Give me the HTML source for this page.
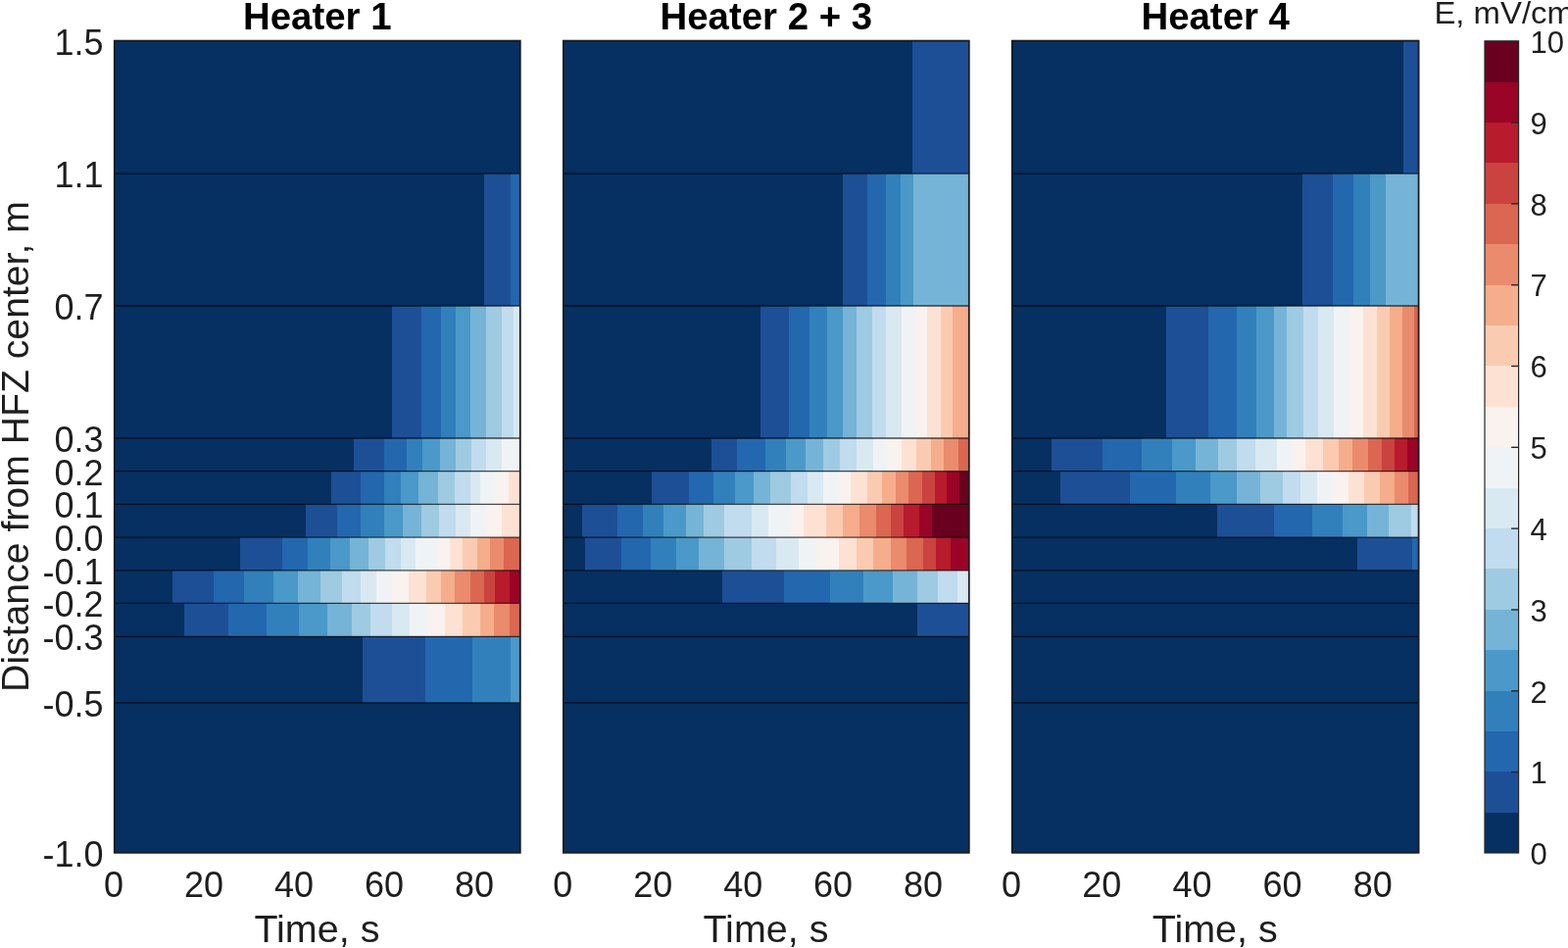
<!DOCTYPE html>
<html><head><meta charset="utf-8"><title>Heater E-field</title>
<style>html,body{margin:0;padding:0;background:#fff;}svg{display:block;filter:blur(0.5px);}</style></head><body>
<svg width="1600" height="967" viewBox="0 0 1600 967">
<rect x="0" y="0" width="1600" height="967" fill="#fff"/>
<g shape-rendering="crispEdges">
<rect x="116.8" y="41.6" width="414" height="828.2" fill="#053061"/>
<rect x="494.1" y="177.2" width="26.5" height="134.8" fill="#1d4f96"/>
<rect x="520.6" y="177.2" width="10.2" height="134.8" fill="#2367af"/>
<rect x="399.9" y="312" width="29.8" height="135" fill="#1d4f96"/>
<rect x="429.7" y="312" width="19.8" height="135" fill="#2367af"/>
<rect x="449.5" y="312" width="15.8" height="135" fill="#3180bc"/>
<rect x="465.3" y="312" width="14.9" height="135" fill="#4a99c8"/>
<rect x="480.2" y="312" width="15.7" height="135" fill="#75b4d6"/>
<rect x="495.9" y="312" width="15.7" height="135" fill="#9ecbe2"/>
<rect x="511.6" y="312" width="12.4" height="135" fill="#c0dcee"/>
<rect x="524" y="312" width="6.8" height="135" fill="#d9e9f2"/>
<rect x="361.2" y="447" width="30.6" height="33.7" fill="#1d4f96"/>
<rect x="391.8" y="447" width="22.7" height="33.7" fill="#2367af"/>
<rect x="414.5" y="447" width="16.1" height="33.7" fill="#3180bc"/>
<rect x="430.6" y="447" width="18.1" height="33.7" fill="#4a99c8"/>
<rect x="448.7" y="447" width="16.1" height="33.7" fill="#75b4d6"/>
<rect x="464.8" y="447" width="15.7" height="33.7" fill="#9ecbe2"/>
<rect x="480.5" y="447" width="15.7" height="33.7" fill="#c0dcee"/>
<rect x="496.2" y="447" width="15.8" height="33.7" fill="#d9e9f2"/>
<rect x="512" y="447" width="18.8" height="33.7" fill="#f0f3f6"/>
<rect x="337.9" y="480.7" width="29.9" height="33.6" fill="#1d4f96"/>
<rect x="367.8" y="480.7" width="24" height="33.6" fill="#2367af"/>
<rect x="391.8" y="480.7" width="17.3" height="33.6" fill="#3180bc"/>
<rect x="409.1" y="480.7" width="18.2" height="33.6" fill="#4a99c8"/>
<rect x="427.3" y="480.7" width="19.7" height="33.6" fill="#75b4d6"/>
<rect x="447" y="480.7" width="17" height="33.6" fill="#9ecbe2"/>
<rect x="464" y="480.7" width="15.7" height="33.6" fill="#c0dcee"/>
<rect x="479.7" y="480.7" width="9.9" height="33.6" fill="#d9e9f2"/>
<rect x="489.6" y="480.7" width="14.9" height="33.6" fill="#f0f3f6"/>
<rect x="504.5" y="480.7" width="14.5" height="33.6" fill="#f9f2ee"/>
<rect x="519" y="480.7" width="11.8" height="33.6" fill="#fde2d4"/>
<rect x="311.9" y="514.3" width="32.5" height="33.8" fill="#1d4f96"/>
<rect x="344.4" y="514.3" width="24" height="33.8" fill="#2367af"/>
<rect x="368.4" y="514.3" width="23.1" height="33.8" fill="#3180bc"/>
<rect x="391.5" y="514.3" width="19.7" height="33.8" fill="#4a99c8"/>
<rect x="411.2" y="514.3" width="18.7" height="33.8" fill="#75b4d6"/>
<rect x="429.9" y="514.3" width="18.1" height="33.8" fill="#9ecbe2"/>
<rect x="448" y="514.3" width="16.6" height="33.8" fill="#c0dcee"/>
<rect x="464.6" y="514.3" width="15.8" height="33.8" fill="#d9e9f2"/>
<rect x="480.4" y="514.3" width="15.3" height="33.8" fill="#f0f3f6"/>
<rect x="495.7" y="514.3" width="16.5" height="33.8" fill="#f9f2ee"/>
<rect x="512.2" y="514.3" width="18.6" height="33.8" fill="#fde2d4"/>
<rect x="244.9" y="548.1" width="43" height="33.8" fill="#1d4f96"/>
<rect x="287.9" y="548.1" width="25.6" height="33.8" fill="#2367af"/>
<rect x="313.5" y="548.1" width="23" height="33.8" fill="#3180bc"/>
<rect x="336.5" y="548.1" width="20.3" height="33.8" fill="#4a99c8"/>
<rect x="356.8" y="548.1" width="19" height="33.8" fill="#75b4d6"/>
<rect x="375.8" y="548.1" width="17" height="33.8" fill="#9ecbe2"/>
<rect x="392.8" y="548.1" width="15.7" height="33.8" fill="#c0dcee"/>
<rect x="408.5" y="548.1" width="15.6" height="33.8" fill="#d9e9f2"/>
<rect x="424.1" y="548.1" width="23.1" height="33.8" fill="#f0f3f6"/>
<rect x="447.2" y="548.1" width="11.6" height="33.8" fill="#f9f2ee"/>
<rect x="458.8" y="548.1" width="13.2" height="33.8" fill="#fde2d4"/>
<rect x="472" y="548.1" width="14.8" height="33.8" fill="#fbcbb1"/>
<rect x="486.8" y="548.1" width="13.2" height="33.8" fill="#f6ad8b"/>
<rect x="500" y="548.1" width="13.9" height="33.8" fill="#ea8b6d"/>
<rect x="513.9" y="548.1" width="16.9" height="33.8" fill="#db6651"/>
<rect x="175.8" y="581.9" width="41.7" height="33.4" fill="#1d4f96"/>
<rect x="217.5" y="581.9" width="31.9" height="33.4" fill="#2367af"/>
<rect x="249.4" y="581.9" width="30" height="33.4" fill="#3180bc"/>
<rect x="279.4" y="581.9" width="24.8" height="33.4" fill="#4a99c8"/>
<rect x="304.2" y="581.9" width="22.8" height="33.4" fill="#75b4d6"/>
<rect x="327" y="581.9" width="21.5" height="33.4" fill="#9ecbe2"/>
<rect x="348.5" y="581.9" width="19.2" height="33.4" fill="#c0dcee"/>
<rect x="367.7" y="581.9" width="16.2" height="33.4" fill="#d9e9f2"/>
<rect x="383.9" y="581.9" width="15.7" height="33.4" fill="#f0f3f6"/>
<rect x="399.6" y="581.9" width="17.4" height="33.4" fill="#f9f2ee"/>
<rect x="417" y="581.9" width="18.2" height="33.4" fill="#fde2d4"/>
<rect x="435.2" y="581.9" width="14.7" height="33.4" fill="#fbcbb1"/>
<rect x="449.9" y="581.9" width="14.1" height="33.4" fill="#f6ad8b"/>
<rect x="464" y="581.9" width="15.7" height="33.4" fill="#ea8b6d"/>
<rect x="479.7" y="581.9" width="14" height="33.4" fill="#db6651"/>
<rect x="493.7" y="581.9" width="11.6" height="33.4" fill="#cb433e"/>
<rect x="505.3" y="581.9" width="14.9" height="33.4" fill="#b71b2c"/>
<rect x="520.2" y="581.9" width="10.6" height="33.4" fill="#9a0426"/>
<rect x="187.7" y="615.3" width="45.1" height="34" fill="#1d4f96"/>
<rect x="232.8" y="615.3" width="39.2" height="34" fill="#2367af"/>
<rect x="272" y="615.3" width="32.6" height="34" fill="#3180bc"/>
<rect x="304.6" y="615.3" width="29" height="34" fill="#4a99c8"/>
<rect x="333.6" y="615.3" width="25.4" height="34" fill="#75b4d6"/>
<rect x="359" y="615.3" width="19.1" height="34" fill="#9ecbe2"/>
<rect x="378.1" y="615.3" width="21.5" height="34" fill="#c0dcee"/>
<rect x="399.6" y="615.3" width="18.2" height="34" fill="#d9e9f2"/>
<rect x="417.8" y="615.3" width="18.2" height="34" fill="#f0f3f6"/>
<rect x="436" y="615.3" width="18" height="34" fill="#f9f2ee"/>
<rect x="454" y="615.3" width="18.2" height="34" fill="#fde2d4"/>
<rect x="472.2" y="615.3" width="18.2" height="34" fill="#fbcbb1"/>
<rect x="490.4" y="615.3" width="13.7" height="34" fill="#f6ad8b"/>
<rect x="504.1" y="615.3" width="16.1" height="34" fill="#ea8b6d"/>
<rect x="520.2" y="615.3" width="10.6" height="34" fill="#db6651"/>
<rect x="369.6" y="649.3" width="64.6" height="67.6" fill="#1d4f96"/>
<rect x="434.2" y="649.3" width="47.3" height="67.6" fill="#2367af"/>
<rect x="481.5" y="649.3" width="39.4" height="67.6" fill="#3180bc"/>
<rect x="520.9" y="649.3" width="9.9" height="67.6" fill="#4a99c8"/>
</g>
<line x1="116.8" y1="177.2" x2="530.8" y2="177.2" stroke="#000" stroke-width="1.3" stroke-opacity="0.7"/>
<line x1="116.8" y1="312" x2="530.8" y2="312" stroke="#000" stroke-width="1.3" stroke-opacity="0.7"/>
<line x1="116.8" y1="447" x2="530.8" y2="447" stroke="#000" stroke-width="1.3" stroke-opacity="0.7"/>
<line x1="116.8" y1="480.7" x2="530.8" y2="480.7" stroke="#000" stroke-width="1.3" stroke-opacity="0.7"/>
<line x1="116.8" y1="514.3" x2="530.8" y2="514.3" stroke="#000" stroke-width="1.3" stroke-opacity="0.7"/>
<line x1="116.8" y1="548.1" x2="530.8" y2="548.1" stroke="#000" stroke-width="1.3" stroke-opacity="0.7"/>
<line x1="116.8" y1="581.9" x2="530.8" y2="581.9" stroke="#000" stroke-width="1.3" stroke-opacity="0.7"/>
<line x1="116.8" y1="615.3" x2="530.8" y2="615.3" stroke="#000" stroke-width="1.3" stroke-opacity="0.7"/>
<line x1="116.8" y1="649.3" x2="530.8" y2="649.3" stroke="#000" stroke-width="1.3" stroke-opacity="0.7"/>
<line x1="116.8" y1="716.9" x2="530.8" y2="716.9" stroke="#000" stroke-width="1.3" stroke-opacity="0.7"/>
<rect x="116.8" y="41.6" width="414" height="828.2" fill="none" stroke="#1a1a1f" stroke-width="1.8"/>
<text x="323.8" y="30" font-family="Liberation Sans, Arial, Helvetica, sans-serif" font-weight="bold" font-size="38.4" text-anchor="middle" fill="#000">Heater 1</text>
<text x="116.1" y="914.5" font-family="Liberation Sans, Arial, Helvetica, sans-serif" font-size="36" text-anchor="middle" fill="#1e1e1e">0</text>
<text x="208.1" y="914.5" font-family="Liberation Sans, Arial, Helvetica, sans-serif" font-size="36" text-anchor="middle" fill="#1e1e1e">20</text>
<text x="300.1" y="914.5" font-family="Liberation Sans, Arial, Helvetica, sans-serif" font-size="36" text-anchor="middle" fill="#1e1e1e">40</text>
<text x="392.1" y="914.5" font-family="Liberation Sans, Arial, Helvetica, sans-serif" font-size="36" text-anchor="middle" fill="#1e1e1e">60</text>
<text x="484.1" y="914.5" font-family="Liberation Sans, Arial, Helvetica, sans-serif" font-size="36" text-anchor="middle" fill="#1e1e1e">80</text>
<text x="323.4" y="961" font-family="Liberation Sans, Arial, Helvetica, sans-serif" font-size="39.5" text-anchor="middle" fill="#1e1e1e">Time, s</text>
<g shape-rendering="crispEdges">
<rect x="574.9" y="41.6" width="413.9" height="828.2" fill="#053061"/>
<rect x="931" y="41.7" width="57.8" height="135.5" fill="#1d4f96"/>
<rect x="859.7" y="177.2" width="25.6" height="134.8" fill="#1d4f96"/>
<rect x="885.3" y="177.2" width="18.6" height="134.8" fill="#2367af"/>
<rect x="903.9" y="177.2" width="15.5" height="134.8" fill="#3180bc"/>
<rect x="919.4" y="177.2" width="12.4" height="134.8" fill="#4a99c8"/>
<rect x="931.8" y="177.2" width="57" height="134.8" fill="#75b4d6"/>
<rect x="775.9" y="312" width="28.6" height="135" fill="#1d4f96"/>
<rect x="804.5" y="312" width="21" height="135" fill="#2367af"/>
<rect x="825.5" y="312" width="18.6" height="135" fill="#3180bc"/>
<rect x="844.1" y="312" width="15.5" height="135" fill="#4a99c8"/>
<rect x="859.6" y="312" width="14.4" height="135" fill="#75b4d6"/>
<rect x="874" y="312" width="16.2" height="135" fill="#9ecbe2"/>
<rect x="890.2" y="312" width="13.9" height="135" fill="#c0dcee"/>
<rect x="904.1" y="312" width="15.5" height="135" fill="#d9e9f2"/>
<rect x="919.6" y="312" width="15.5" height="135" fill="#f0f3f6"/>
<rect x="935.1" y="312" width="10.9" height="135" fill="#f9f2ee"/>
<rect x="946" y="312" width="13.9" height="135" fill="#fde2d4"/>
<rect x="959.9" y="312" width="12.4" height="135" fill="#fbcbb1"/>
<rect x="972.3" y="312" width="16.5" height="135" fill="#f6ad8b"/>
<rect x="726.1" y="447" width="26.2" height="33.7" fill="#1d4f96"/>
<rect x="752.3" y="447" width="29.1" height="33.7" fill="#2367af"/>
<rect x="781.4" y="447" width="20.7" height="33.7" fill="#3180bc"/>
<rect x="802.1" y="447" width="19.4" height="33.7" fill="#4a99c8"/>
<rect x="821.5" y="447" width="18.5" height="33.7" fill="#75b4d6"/>
<rect x="840" y="447" width="16.9" height="33.7" fill="#9ecbe2"/>
<rect x="856.9" y="447" width="17" height="33.7" fill="#c0dcee"/>
<rect x="873.9" y="447" width="17.3" height="33.7" fill="#d9e9f2"/>
<rect x="891.2" y="447" width="14.9" height="33.7" fill="#f0f3f6"/>
<rect x="906.1" y="447" width="14" height="33.7" fill="#f9f2ee"/>
<rect x="920.1" y="447" width="14.8" height="33.7" fill="#fde2d4"/>
<rect x="934.9" y="447" width="14.8" height="33.7" fill="#fbcbb1"/>
<rect x="949.7" y="447" width="12.9" height="33.7" fill="#f6ad8b"/>
<rect x="962.6" y="447" width="15.3" height="33.7" fill="#ea8b6d"/>
<rect x="977.9" y="447" width="10.9" height="33.7" fill="#db6651"/>
<rect x="664.9" y="480.7" width="37.7" height="33.6" fill="#1d4f96"/>
<rect x="702.6" y="480.7" width="25.6" height="33.6" fill="#2367af"/>
<rect x="728.2" y="480.7" width="22.1" height="33.6" fill="#3180bc"/>
<rect x="750.3" y="480.7" width="18.3" height="33.6" fill="#4a99c8"/>
<rect x="768.6" y="480.7" width="17.8" height="33.6" fill="#75b4d6"/>
<rect x="786.4" y="480.7" width="20.2" height="33.6" fill="#9ecbe2"/>
<rect x="806.6" y="480.7" width="17.4" height="33.6" fill="#c0dcee"/>
<rect x="824" y="480.7" width="16" height="33.6" fill="#d9e9f2"/>
<rect x="840" y="480.7" width="15.7" height="33.6" fill="#f0f3f6"/>
<rect x="855.7" y="480.7" width="12.4" height="33.6" fill="#f9f2ee"/>
<rect x="868.1" y="480.7" width="16.5" height="33.6" fill="#fde2d4"/>
<rect x="884.6" y="480.7" width="14.9" height="33.6" fill="#fbcbb1"/>
<rect x="899.5" y="480.7" width="14.1" height="33.6" fill="#f6ad8b"/>
<rect x="913.6" y="480.7" width="13.4" height="33.6" fill="#ea8b6d"/>
<rect x="927" y="480.7" width="13.6" height="33.6" fill="#db6651"/>
<rect x="940.6" y="480.7" width="13.3" height="33.6" fill="#cb433e"/>
<rect x="953.9" y="480.7" width="12" height="33.6" fill="#b71b2c"/>
<rect x="965.9" y="480.7" width="12.8" height="33.6" fill="#9a0426"/>
<rect x="978.7" y="480.7" width="10.1" height="33.6" fill="#69001f"/>
<rect x="594" y="514.3" width="35.6" height="33.8" fill="#1d4f96"/>
<rect x="629.6" y="514.3" width="26.4" height="33.8" fill="#2367af"/>
<rect x="656" y="514.3" width="20.5" height="33.8" fill="#3180bc"/>
<rect x="676.5" y="514.3" width="23.2" height="33.8" fill="#4a99c8"/>
<rect x="699.7" y="514.3" width="18.2" height="33.8" fill="#75b4d6"/>
<rect x="717.9" y="514.3" width="20.7" height="33.8" fill="#9ecbe2"/>
<rect x="738.6" y="514.3" width="27.9" height="33.8" fill="#c0dcee"/>
<rect x="766.5" y="514.3" width="17.4" height="33.8" fill="#d9e9f2"/>
<rect x="783.9" y="514.3" width="23.1" height="33.8" fill="#f0f3f6"/>
<rect x="807" y="514.3" width="13.3" height="33.8" fill="#f9f2ee"/>
<rect x="820.3" y="514.3" width="22.3" height="33.8" fill="#fde2d4"/>
<rect x="842.6" y="514.3" width="17.3" height="33.8" fill="#fbcbb1"/>
<rect x="859.9" y="514.3" width="16.9" height="33.8" fill="#f6ad8b"/>
<rect x="876.8" y="514.3" width="17" height="33.8" fill="#ea8b6d"/>
<rect x="893.8" y="514.3" width="14.9" height="33.8" fill="#db6651"/>
<rect x="908.7" y="514.3" width="13.1" height="33.8" fill="#cb433e"/>
<rect x="921.8" y="514.3" width="15.7" height="33.8" fill="#b71b2c"/>
<rect x="937.5" y="514.3" width="13.1" height="33.8" fill="#9a0426"/>
<rect x="950.6" y="514.3" width="38.2" height="33.8" fill="#69001f"/>
<rect x="596.5" y="548.1" width="37.2" height="33.8" fill="#1d4f96"/>
<rect x="633.7" y="548.1" width="30.1" height="33.8" fill="#2367af"/>
<rect x="663.8" y="548.1" width="26" height="33.8" fill="#3180bc"/>
<rect x="689.8" y="548.1" width="23.1" height="33.8" fill="#4a99c8"/>
<rect x="712.9" y="548.1" width="26.5" height="33.8" fill="#75b4d6"/>
<rect x="739.4" y="548.1" width="28" height="33.8" fill="#9ecbe2"/>
<rect x="767.4" y="548.1" width="24.4" height="33.8" fill="#c0dcee"/>
<rect x="791.8" y="548.1" width="23.5" height="33.8" fill="#d9e9f2"/>
<rect x="815.3" y="548.1" width="17.4" height="33.8" fill="#f0f3f6"/>
<rect x="832.7" y="548.1" width="23" height="33.8" fill="#f9f2ee"/>
<rect x="855.7" y="548.1" width="18.2" height="33.8" fill="#fde2d4"/>
<rect x="873.9" y="548.1" width="17.4" height="33.8" fill="#fbcbb1"/>
<rect x="891.3" y="548.1" width="17.4" height="33.8" fill="#f6ad8b"/>
<rect x="908.7" y="548.1" width="16.3" height="33.8" fill="#ea8b6d"/>
<rect x="925" y="548.1" width="16.5" height="33.8" fill="#db6651"/>
<rect x="941.5" y="548.1" width="13.2" height="33.8" fill="#cb433e"/>
<rect x="954.7" y="548.1" width="14.9" height="33.8" fill="#b71b2c"/>
<rect x="969.6" y="548.1" width="19.2" height="33.8" fill="#9a0426"/>
<rect x="737.4" y="581.9" width="62.9" height="33.4" fill="#1d4f96"/>
<rect x="800.3" y="581.9" width="47" height="33.4" fill="#2367af"/>
<rect x="847.3" y="581.9" width="33.9" height="33.4" fill="#3180bc"/>
<rect x="881.2" y="581.9" width="29.9" height="33.4" fill="#4a99c8"/>
<rect x="911.1" y="581.9" width="24.5" height="33.4" fill="#75b4d6"/>
<rect x="935.6" y="581.9" width="21.5" height="33.4" fill="#9ecbe2"/>
<rect x="957.1" y="581.9" width="19.9" height="33.4" fill="#c0dcee"/>
<rect x="977" y="581.9" width="11.8" height="33.4" fill="#d9e9f2"/>
<rect x="935.6" y="615.3" width="53.2" height="34" fill="#1d4f96"/>
</g>
<line x1="574.9" y1="177.2" x2="988.8" y2="177.2" stroke="#000" stroke-width="1.3" stroke-opacity="0.7"/>
<line x1="574.9" y1="312" x2="988.8" y2="312" stroke="#000" stroke-width="1.3" stroke-opacity="0.7"/>
<line x1="574.9" y1="447" x2="988.8" y2="447" stroke="#000" stroke-width="1.3" stroke-opacity="0.7"/>
<line x1="574.9" y1="480.7" x2="988.8" y2="480.7" stroke="#000" stroke-width="1.3" stroke-opacity="0.7"/>
<line x1="574.9" y1="514.3" x2="988.8" y2="514.3" stroke="#000" stroke-width="1.3" stroke-opacity="0.7"/>
<line x1="574.9" y1="548.1" x2="988.8" y2="548.1" stroke="#000" stroke-width="1.3" stroke-opacity="0.7"/>
<line x1="574.9" y1="581.9" x2="988.8" y2="581.9" stroke="#000" stroke-width="1.3" stroke-opacity="0.7"/>
<line x1="574.9" y1="615.3" x2="988.8" y2="615.3" stroke="#000" stroke-width="1.3" stroke-opacity="0.7"/>
<line x1="574.9" y1="649.3" x2="988.8" y2="649.3" stroke="#000" stroke-width="1.3" stroke-opacity="0.7"/>
<line x1="574.9" y1="716.9" x2="988.8" y2="716.9" stroke="#000" stroke-width="1.3" stroke-opacity="0.7"/>
<rect x="574.9" y="41.6" width="413.9" height="828.2" fill="none" stroke="#1a1a1f" stroke-width="1.8"/>
<text x="781.85" y="30" font-family="Liberation Sans, Arial, Helvetica, sans-serif" font-weight="bold" font-size="38.4" text-anchor="middle" fill="#000">Heater 2 + 3</text>
<text x="574.2" y="914.5" font-family="Liberation Sans, Arial, Helvetica, sans-serif" font-size="36" text-anchor="middle" fill="#1e1e1e">0</text>
<text x="666.18" y="914.5" font-family="Liberation Sans, Arial, Helvetica, sans-serif" font-size="36" text-anchor="middle" fill="#1e1e1e">20</text>
<text x="758.16" y="914.5" font-family="Liberation Sans, Arial, Helvetica, sans-serif" font-size="36" text-anchor="middle" fill="#1e1e1e">40</text>
<text x="850.13" y="914.5" font-family="Liberation Sans, Arial, Helvetica, sans-serif" font-size="36" text-anchor="middle" fill="#1e1e1e">60</text>
<text x="942.11" y="914.5" font-family="Liberation Sans, Arial, Helvetica, sans-serif" font-size="36" text-anchor="middle" fill="#1e1e1e">80</text>
<text x="781.45" y="961" font-family="Liberation Sans, Arial, Helvetica, sans-serif" font-size="39.5" text-anchor="middle" fill="#1e1e1e">Time, s</text>
<g shape-rendering="crispEdges">
<rect x="1032.8" y="41.6" width="414.8" height="828.2" fill="#053061"/>
<rect x="1431.6" y="41.7" width="16" height="135.5" fill="#1d4f96"/>
<rect x="1329.3" y="177.2" width="30.2" height="134.8" fill="#1d4f96"/>
<rect x="1359.5" y="177.2" width="21.7" height="134.8" fill="#2367af"/>
<rect x="1381.2" y="177.2" width="17.1" height="134.8" fill="#3180bc"/>
<rect x="1398.3" y="177.2" width="15.5" height="134.8" fill="#4a99c8"/>
<rect x="1413.8" y="177.2" width="33.8" height="134.8" fill="#75b4d6"/>
<rect x="1190.1" y="312" width="42.6" height="135" fill="#1d4f96"/>
<rect x="1232.7" y="312" width="29.5" height="135" fill="#2367af"/>
<rect x="1262.2" y="312" width="19.4" height="135" fill="#3180bc"/>
<rect x="1281.6" y="312" width="18.6" height="135" fill="#4a99c8"/>
<rect x="1300.2" y="312" width="13" height="135" fill="#75b4d6"/>
<rect x="1313.2" y="312" width="17" height="135" fill="#9ecbe2"/>
<rect x="1330.2" y="312" width="14.7" height="135" fill="#c0dcee"/>
<rect x="1344.9" y="312" width="16.3" height="135" fill="#d9e9f2"/>
<rect x="1361.2" y="312" width="15.5" height="135" fill="#f0f3f6"/>
<rect x="1376.7" y="312" width="14.7" height="135" fill="#f9f2ee"/>
<rect x="1391.4" y="312" width="13.2" height="135" fill="#fde2d4"/>
<rect x="1404.6" y="312" width="13.2" height="135" fill="#fbcbb1"/>
<rect x="1417.8" y="312" width="13.1" height="135" fill="#f6ad8b"/>
<rect x="1430.9" y="312" width="11.7" height="135" fill="#ea8b6d"/>
<rect x="1442.6" y="312" width="5" height="135" fill="#db6651"/>
<rect x="1073.3" y="447" width="52.1" height="33.7" fill="#1d4f96"/>
<rect x="1125.4" y="447" width="39.5" height="33.7" fill="#2367af"/>
<rect x="1164.9" y="447" width="30.6" height="33.7" fill="#3180bc"/>
<rect x="1195.5" y="447" width="24.8" height="33.7" fill="#4a99c8"/>
<rect x="1220.3" y="447" width="22.8" height="33.7" fill="#75b4d6"/>
<rect x="1243.1" y="447" width="19.3" height="33.7" fill="#9ecbe2"/>
<rect x="1262.4" y="447" width="18.2" height="33.7" fill="#c0dcee"/>
<rect x="1280.6" y="447" width="22.3" height="33.7" fill="#d9e9f2"/>
<rect x="1302.9" y="447" width="16.5" height="33.7" fill="#f0f3f6"/>
<rect x="1319.4" y="447" width="12.4" height="33.7" fill="#f9f2ee"/>
<rect x="1331.8" y="447" width="18.5" height="33.7" fill="#fde2d4"/>
<rect x="1350.3" y="447" width="16.1" height="33.7" fill="#fbcbb1"/>
<rect x="1366.4" y="447" width="13.7" height="33.7" fill="#f6ad8b"/>
<rect x="1380.1" y="447" width="15.7" height="33.7" fill="#ea8b6d"/>
<rect x="1395.8" y="447" width="14.1" height="33.7" fill="#db6651"/>
<rect x="1409.9" y="447" width="13.1" height="33.7" fill="#cb433e"/>
<rect x="1423" y="447" width="13.4" height="33.7" fill="#b71b2c"/>
<rect x="1436.4" y="447" width="11.2" height="33.7" fill="#9a0426"/>
<rect x="1081.5" y="480.7" width="71.2" height="33.6" fill="#1d4f96"/>
<rect x="1152.7" y="480.7" width="47.4" height="33.6" fill="#2367af"/>
<rect x="1200.1" y="480.7" width="35.1" height="33.6" fill="#3180bc"/>
<rect x="1235.2" y="480.7" width="26.3" height="33.6" fill="#4a99c8"/>
<rect x="1261.5" y="480.7" width="24" height="33.6" fill="#75b4d6"/>
<rect x="1285.5" y="480.7" width="23.2" height="33.6" fill="#9ecbe2"/>
<rect x="1308.7" y="480.7" width="18.2" height="33.6" fill="#c0dcee"/>
<rect x="1326.9" y="480.7" width="16.8" height="33.6" fill="#d9e9f2"/>
<rect x="1343.7" y="480.7" width="16.1" height="33.6" fill="#f0f3f6"/>
<rect x="1359.8" y="480.7" width="16.1" height="33.6" fill="#f9f2ee"/>
<rect x="1375.9" y="480.7" width="16.2" height="33.6" fill="#fde2d4"/>
<rect x="1392.1" y="480.7" width="15.7" height="33.6" fill="#fbcbb1"/>
<rect x="1407.8" y="480.7" width="15.3" height="33.6" fill="#f6ad8b"/>
<rect x="1423.1" y="480.7" width="14.1" height="33.6" fill="#ea8b6d"/>
<rect x="1437.2" y="480.7" width="10.4" height="33.6" fill="#db6651"/>
<rect x="1242" y="514.3" width="58.3" height="33.8" fill="#1d4f96"/>
<rect x="1300.3" y="514.3" width="38.8" height="33.8" fill="#2367af"/>
<rect x="1339.1" y="514.3" width="30.6" height="33.8" fill="#3180bc"/>
<rect x="1369.7" y="514.3" width="24.8" height="33.8" fill="#4a99c8"/>
<rect x="1394.5" y="514.3" width="22" height="33.8" fill="#75b4d6"/>
<rect x="1416.5" y="514.3" width="23.2" height="33.8" fill="#9ecbe2"/>
<rect x="1439.7" y="514.3" width="7.9" height="33.8" fill="#c0dcee"/>
<rect x="1385.4" y="548.1" width="55.1" height="33.8" fill="#1d4f96"/>
<rect x="1440.5" y="548.1" width="7.1" height="33.8" fill="#2367af"/>
</g>
<line x1="1032.8" y1="177.2" x2="1447.6" y2="177.2" stroke="#000" stroke-width="1.3" stroke-opacity="0.7"/>
<line x1="1032.8" y1="312" x2="1447.6" y2="312" stroke="#000" stroke-width="1.3" stroke-opacity="0.7"/>
<line x1="1032.8" y1="447" x2="1447.6" y2="447" stroke="#000" stroke-width="1.3" stroke-opacity="0.7"/>
<line x1="1032.8" y1="480.7" x2="1447.6" y2="480.7" stroke="#000" stroke-width="1.3" stroke-opacity="0.7"/>
<line x1="1032.8" y1="514.3" x2="1447.6" y2="514.3" stroke="#000" stroke-width="1.3" stroke-opacity="0.7"/>
<line x1="1032.8" y1="548.1" x2="1447.6" y2="548.1" stroke="#000" stroke-width="1.3" stroke-opacity="0.7"/>
<line x1="1032.8" y1="581.9" x2="1447.6" y2="581.9" stroke="#000" stroke-width="1.3" stroke-opacity="0.7"/>
<line x1="1032.8" y1="615.3" x2="1447.6" y2="615.3" stroke="#000" stroke-width="1.3" stroke-opacity="0.7"/>
<line x1="1032.8" y1="649.3" x2="1447.6" y2="649.3" stroke="#000" stroke-width="1.3" stroke-opacity="0.7"/>
<line x1="1032.8" y1="716.9" x2="1447.6" y2="716.9" stroke="#000" stroke-width="1.3" stroke-opacity="0.7"/>
<rect x="1032.8" y="41.6" width="414.8" height="828.2" fill="none" stroke="#1a1a1f" stroke-width="1.8"/>
<text x="1240.2" y="30" font-family="Liberation Sans, Arial, Helvetica, sans-serif" font-weight="bold" font-size="38.4" text-anchor="middle" fill="#000">Heater 4</text>
<text x="1032.1" y="914.5" font-family="Liberation Sans, Arial, Helvetica, sans-serif" font-size="36" text-anchor="middle" fill="#1e1e1e">0</text>
<text x="1124.28" y="914.5" font-family="Liberation Sans, Arial, Helvetica, sans-serif" font-size="36" text-anchor="middle" fill="#1e1e1e">20</text>
<text x="1216.46" y="914.5" font-family="Liberation Sans, Arial, Helvetica, sans-serif" font-size="36" text-anchor="middle" fill="#1e1e1e">40</text>
<text x="1308.63" y="914.5" font-family="Liberation Sans, Arial, Helvetica, sans-serif" font-size="36" text-anchor="middle" fill="#1e1e1e">60</text>
<text x="1400.81" y="914.5" font-family="Liberation Sans, Arial, Helvetica, sans-serif" font-size="36" text-anchor="middle" fill="#1e1e1e">80</text>
<text x="1239.8" y="961" font-family="Liberation Sans, Arial, Helvetica, sans-serif" font-size="39.5" text-anchor="middle" fill="#1e1e1e">Time, s</text>
<text x="105.5" y="55.7" font-family="Liberation Sans, Arial, Helvetica, sans-serif" font-size="36" text-anchor="end" fill="#1e1e1e">1.5</text>
<text x="105.5" y="191.2" font-family="Liberation Sans, Arial, Helvetica, sans-serif" font-size="36" text-anchor="end" fill="#1e1e1e">1.1</text>
<text x="105.5" y="326" font-family="Liberation Sans, Arial, Helvetica, sans-serif" font-size="36" text-anchor="end" fill="#1e1e1e">0.7</text>
<text x="105.5" y="461" font-family="Liberation Sans, Arial, Helvetica, sans-serif" font-size="36" text-anchor="end" fill="#1e1e1e">0.3</text>
<text x="105.5" y="494.7" font-family="Liberation Sans, Arial, Helvetica, sans-serif" font-size="36" text-anchor="end" fill="#1e1e1e">0.2</text>
<text x="105.5" y="528.3" font-family="Liberation Sans, Arial, Helvetica, sans-serif" font-size="36" text-anchor="end" fill="#1e1e1e">0.1</text>
<text x="105.5" y="562.1" font-family="Liberation Sans, Arial, Helvetica, sans-serif" font-size="36" text-anchor="end" fill="#1e1e1e">0.0</text>
<text x="105.5" y="595.9" font-family="Liberation Sans, Arial, Helvetica, sans-serif" font-size="36" text-anchor="end" fill="#1e1e1e">-0.1</text>
<text x="105.5" y="629.3" font-family="Liberation Sans, Arial, Helvetica, sans-serif" font-size="36" text-anchor="end" fill="#1e1e1e">-0.2</text>
<text x="105.5" y="663.3" font-family="Liberation Sans, Arial, Helvetica, sans-serif" font-size="36" text-anchor="end" fill="#1e1e1e">-0.3</text>
<text x="105.5" y="730.9" font-family="Liberation Sans, Arial, Helvetica, sans-serif" font-size="36" text-anchor="end" fill="#1e1e1e">-0.5</text>
<text x="105.5" y="884" font-family="Liberation Sans, Arial, Helvetica, sans-serif" font-size="36" text-anchor="end" fill="#1e1e1e">-1.0</text>
<text transform="translate(28.9,455.5) rotate(-90)" x="0" y="0" font-family="Liberation Sans, Arial, Helvetica, sans-serif" font-size="39.2" text-anchor="middle" fill="#1e1e1e">Distance from HFZ center, m</text>
<g shape-rendering="crispEdges">
<rect x="1515" y="828.59" width="34.6" height="41.71" fill="#053061"/>
<rect x="1515" y="787.18" width="34.6" height="41.71" fill="#1d4f96"/>
<rect x="1515" y="745.77" width="34.6" height="41.71" fill="#2367af"/>
<rect x="1515" y="704.36" width="34.6" height="41.71" fill="#3180bc"/>
<rect x="1515" y="662.95" width="34.6" height="41.71" fill="#4a99c8"/>
<rect x="1515" y="621.54" width="34.6" height="41.71" fill="#75b4d6"/>
<rect x="1515" y="580.13" width="34.6" height="41.71" fill="#9ecbe2"/>
<rect x="1515" y="538.72" width="34.6" height="41.71" fill="#c0dcee"/>
<rect x="1515" y="497.31" width="34.6" height="41.71" fill="#d9e9f2"/>
<rect x="1515" y="455.9" width="34.6" height="41.71" fill="#f0f3f6"/>
<rect x="1515" y="414.49" width="34.6" height="41.71" fill="#f9f2ee"/>
<rect x="1515" y="373.08" width="34.6" height="41.71" fill="#fde2d4"/>
<rect x="1515" y="331.67" width="34.6" height="41.71" fill="#fbcbb1"/>
<rect x="1515" y="290.26" width="34.6" height="41.71" fill="#f6ad8b"/>
<rect x="1515" y="248.85" width="34.6" height="41.71" fill="#ea8b6d"/>
<rect x="1515" y="207.44" width="34.6" height="41.71" fill="#db6651"/>
<rect x="1515" y="166.03" width="34.6" height="41.71" fill="#cb433e"/>
<rect x="1515" y="124.62" width="34.6" height="41.71" fill="#b71b2c"/>
<rect x="1515" y="83.21" width="34.6" height="41.71" fill="#9a0426"/>
<rect x="1515" y="41.8" width="34.6" height="41.71" fill="#69001f"/>
</g>
<rect x="1515" y="41.8" width="34.6" height="828.2" fill="none" stroke="#262626" stroke-width="1.2"/>
<text x="1561.5" y="882.2" font-family="Liberation Sans, Arial, Helvetica, sans-serif" font-size="31" fill="#1e1e1e">0</text>
<line x1="1542.1" y1="787.58" x2="1549.6" y2="787.58" stroke="#262626" stroke-width="1.4"/>
<text x="1561.5" y="799.38" font-family="Liberation Sans, Arial, Helvetica, sans-serif" font-size="31" fill="#1e1e1e">1</text>
<line x1="1542.1" y1="704.76" x2="1549.6" y2="704.76" stroke="#262626" stroke-width="1.4"/>
<text x="1561.5" y="716.56" font-family="Liberation Sans, Arial, Helvetica, sans-serif" font-size="31" fill="#1e1e1e">2</text>
<line x1="1542.1" y1="621.94" x2="1549.6" y2="621.94" stroke="#262626" stroke-width="1.4"/>
<text x="1561.5" y="633.74" font-family="Liberation Sans, Arial, Helvetica, sans-serif" font-size="31" fill="#1e1e1e">3</text>
<line x1="1542.1" y1="539.12" x2="1549.6" y2="539.12" stroke="#262626" stroke-width="1.4"/>
<text x="1561.5" y="550.92" font-family="Liberation Sans, Arial, Helvetica, sans-serif" font-size="31" fill="#1e1e1e">4</text>
<line x1="1542.1" y1="456.3" x2="1549.6" y2="456.3" stroke="#262626" stroke-width="1.4"/>
<text x="1561.5" y="468.1" font-family="Liberation Sans, Arial, Helvetica, sans-serif" font-size="31" fill="#1e1e1e">5</text>
<line x1="1542.1" y1="373.48" x2="1549.6" y2="373.48" stroke="#262626" stroke-width="1.4"/>
<text x="1561.5" y="385.28" font-family="Liberation Sans, Arial, Helvetica, sans-serif" font-size="31" fill="#1e1e1e">6</text>
<line x1="1542.1" y1="290.66" x2="1549.6" y2="290.66" stroke="#262626" stroke-width="1.4"/>
<text x="1561.5" y="302.46" font-family="Liberation Sans, Arial, Helvetica, sans-serif" font-size="31" fill="#1e1e1e">7</text>
<line x1="1542.1" y1="207.84" x2="1549.6" y2="207.84" stroke="#262626" stroke-width="1.4"/>
<text x="1561.5" y="219.64" font-family="Liberation Sans, Arial, Helvetica, sans-serif" font-size="31" fill="#1e1e1e">8</text>
<line x1="1542.1" y1="125.02" x2="1549.6" y2="125.02" stroke="#262626" stroke-width="1.4"/>
<text x="1561.5" y="136.82" font-family="Liberation Sans, Arial, Helvetica, sans-serif" font-size="31" fill="#1e1e1e">9</text>
<text x="1561.5" y="54" font-family="Liberation Sans, Arial, Helvetica, sans-serif" font-size="31" fill="#1e1e1e">10</text>
<text x="1463.4" y="24.0" font-family="Liberation Sans, Arial, Helvetica, sans-serif" font-size="31.5" textLength="142.5" lengthAdjust="spacingAndGlyphs" fill="#1e1e1e">E, mV/cm</text>
</svg>
</body></html>
